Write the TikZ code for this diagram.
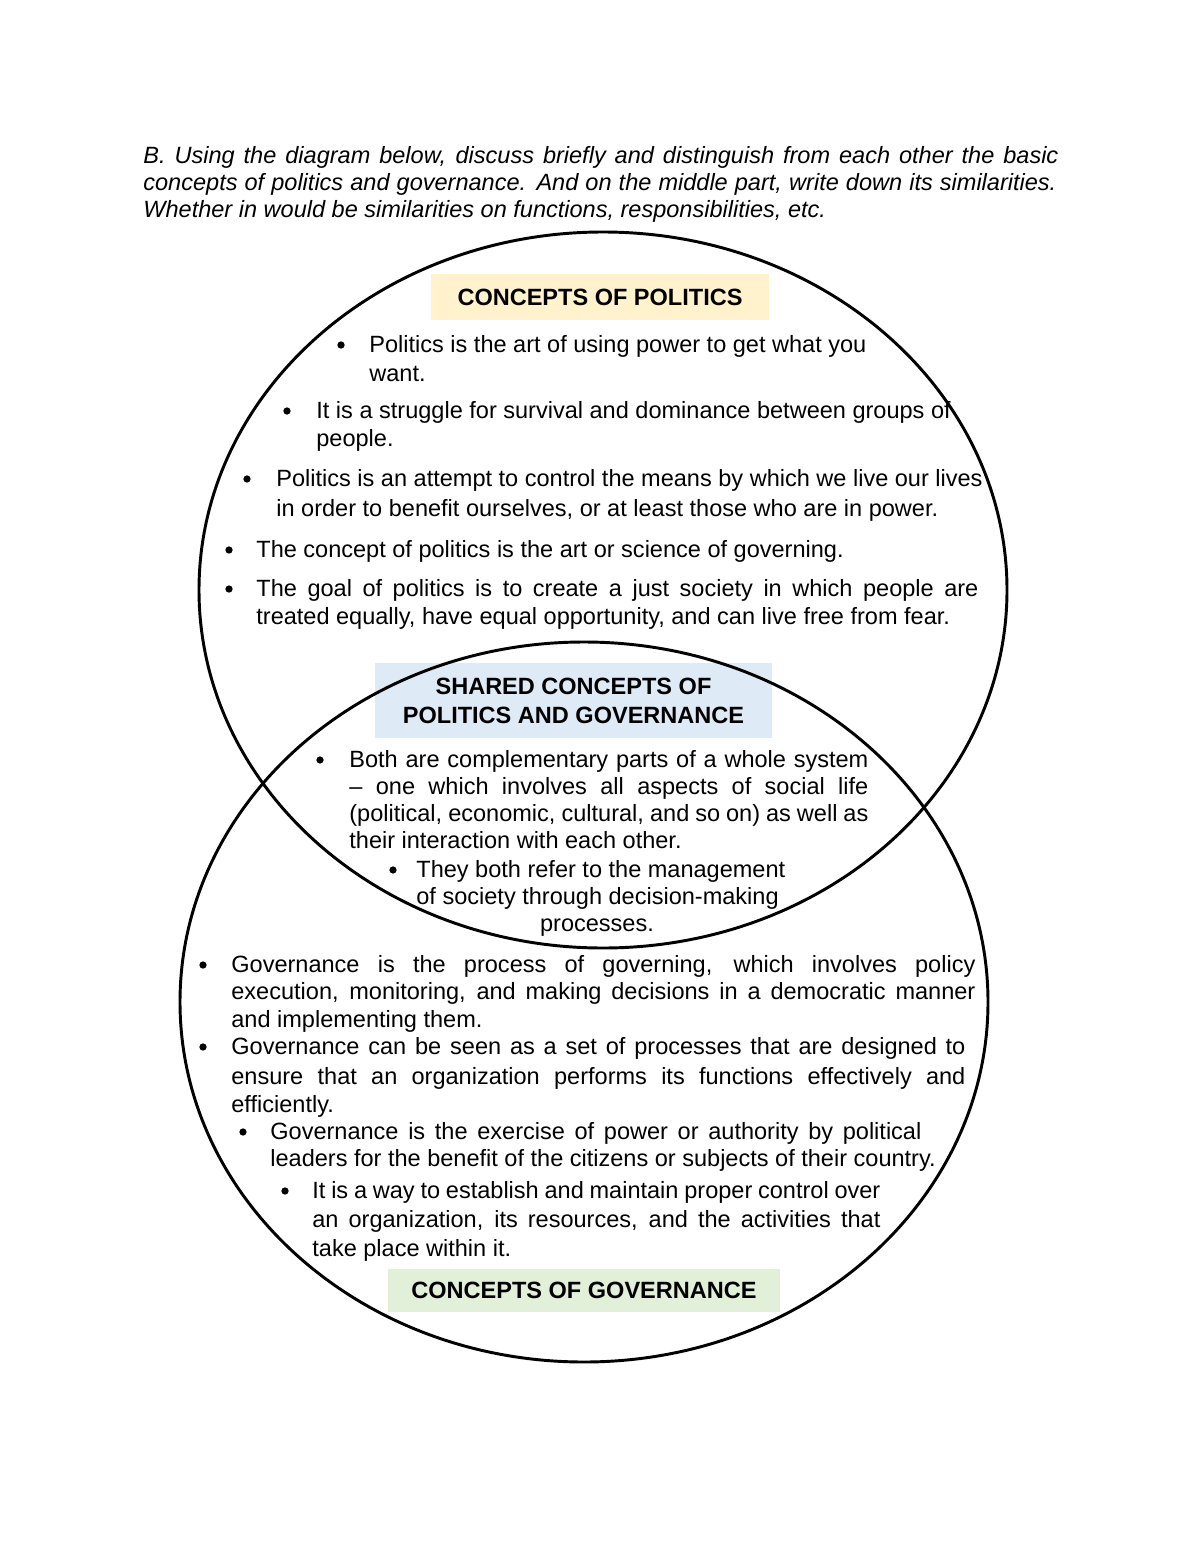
\documentclass[tikz,border=0pt]{standalone}
\usepackage{fontspec}
\setmainfont{Liberation Sans}
\definecolor{ylw}{HTML}{FFF2CC}
\definecolor{blu}{HTML}{DEEAF6}
\definecolor{grn}{HTML}{E2EFD9}
\tikzset{
  txt/.style={anchor=base west, inner sep=0pt, font=\fontsize{12}{14}\selectfont},
  hdr/.style={anchor=base west, inner sep=0pt, font=\fontsize{12}{14}\selectfont\itshape},
  ctr/.style={anchor=base, inner sep=0pt, font=\fontsize{12}{14}\selectfont},
  bul/.style={circle, fill=black, inner sep=0pt, minimum size=3.7pt},
  ttl/.style={inner sep=0pt, font=\fontsize{12}{14.8}\selectfont\bfseries, align=center},
  venn/.style={draw=black, line width=1.5pt}
}
\newcommand{\tline}[4]{\node[txt] (#1) at (#2,#3) {#4};}
\newcommand{\jline}[5]{\node[txt] (#1) at (#2,#4) {\makebox[\dimexpr #3pt*51/100-#2pt*51/100\relax][s]{#5}};}
\newcommand{\hjline}[5]{\node[hdr] (#1) at (#2,#4) {\makebox[\dimexpr #3pt*51/100-#2pt*51/100\relax][s]{#5}};}
\newcommand{\bull}[3]{\node[bul] (#1) at (#2,#3-7) {};}
\begin{document}
\begin{tikzpicture}[x=0.51pt,y=-0.51pt]
\useasboundingbox (0,0) rectangle (1200,1553);
% header
\hjline{h1}{143}{1058}{164}{B. Using the diagram below, discuss briefly and distinguish from each other the basic}
\hjline{h2}{143}{1056}{191}{concepts of politics and governance. And on the middle part, write down its similarities.}
\node[hdr] (h3) at (143,218) {Whether in would be similarities on functions, responsibilities, etc.};
% title boxes
\node[ttl, fill=ylw, minimum width=172pt, minimum height=23.5pt] (tpol) at (600,297) {CONCEPTS OF POLITICS};
\node[ttl, fill=blu, minimum width=202.5pt, minimum height=38.3pt] (tsh) at (573.5,700.5) {SHARED CONCEPTS OF\\POLITICS AND GOVERNANCE};
\node[ttl, fill=grn, minimum width=200pt, minimum height=22pt] (tgov) at (584,1290.5) {CONCEPTS OF GOVERNANCE};
% politics
\bull{pb1}{341}{352}\tline{p1a}{369}{352}{Politics is the art of using power to get what you}
\tline{p1b}{369}{381}{want.}
\bull{pb2}{287}{418}\tline{p2a}{316}{418}{It is a struggle for survival and dominance between groups of}
\tline{p2b}{316}{446}{people.}
\bull{pb3}{247}{486}\tline{p3a}{276}{486}{Politics is an attempt to control the means by which we live our lives}
\tline{p3b}{276}{516}{in order to benefit ourselves, or at least those who are in power.}
\bull{pb4}{229}{557}\tline{p4a}{256}{557}{The concept of politics is the art or science of governing.}
\bull{pb5}{229}{596}\jline{p5a}{256}{978}{596}{The goal of politics is to create a just society in which people are}
\tline{p5b}{256}{624}{treated equally, have equal opportunity, and can live free from fear.}
% shared
\bull{sb1}{320}{767}\jline{s1a}{349}{868}{767}{Both are complementary parts of a whole system}
\jline{s1b}{349}{868}{794}{– one which involves all aspects of social life}
\jline{s1c}{349}{868}{821}{(political, economic, cultural, and so on) as well as}
\tline{s1d}{349}{848}{their interaction with each other.}
\bull{sb2}{393}{877}\tline{s2a}{416}{877}{They both refer to the management}
\tline{s2b}{416}{904}{of society through decision-making}
\node[ctr] (s2c) at (597,931) {processes.};
% governance
\bull{gb1}{203}{972}\jline{g1a}{231}{975}{972}{Governance is the process of governing, which involves policy}
\jline{g1b}{231}{975}{999}{execution, monitoring, and making decisions in a democratic manner}
\tline{g1c}{231}{1027}{and implementing them.}
\bull{gb2}{203}{1054}\jline{g2a}{231}{965}{1054}{Governance can be seen as a set of processes that are designed to}
\jline{g2b}{231}{965}{1084}{ensure that an organization performs its functions effectively and}
\tline{g2c}{231}{1112}{efficiently.}
\bull{gb3}{243}{1139}\jline{g3a}{270}{921}{1139}{Governance is the exercise of power or authority by political}
\tline{g3b}{270}{1166}{leaders for the benefit of the citizens or subjects of their country.}
\bull{gb4}{285}{1198}\jline{g4a}{312}{880}{1198}{It is a way to establish and maintain proper control over}
\jline{g4b}{312}{880}{1227}{an organization, its resources, and the activities that}
\tline{g4c}{312}{1256}{take place within it.}
% circles
\draw[venn] (603,590) ellipse [x radius=404, y radius=358];
\draw[venn] (584,1002) ellipse [x radius=404, y radius=360];
\end{tikzpicture}
\end{document}
